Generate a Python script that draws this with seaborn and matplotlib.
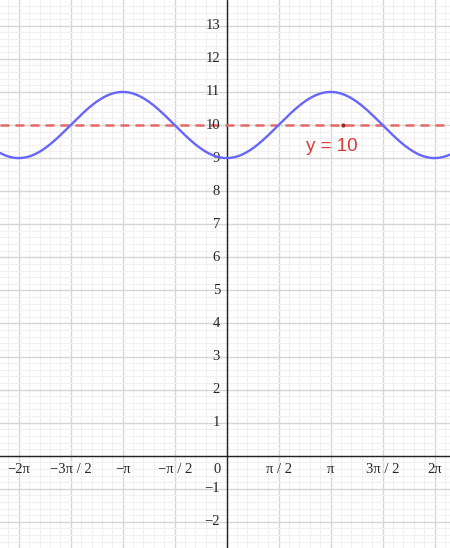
import numpy as np
import pandas as pd
import matplotlib
matplotlib.use("Agg")
import matplotlib.pyplot as plt
import seaborn as sns

# curve: y = 10 - cos(x)
midline = 10
amplitude = 1
x_lo, x_hi = -6.85, 6.75
y_lo, y_hi = -2.79, 13.78

x_tick_steps = [-4, -3, -2, -1, 1, 2, 3, 4]          # multiples of pi/2
x_tick_labels = ["\u22122\u03c0", "\u22123\u03c0 / 2", "\u2212\u03c0", "\u2212\u03c0 / 2",
                 "\u03c0 / 2", "\u03c0", "3\u03c0 / 2", "2\u03c0"]
y_ticks = [-2, -1, 1, 2, 3, 4, 5, 6, 7, 8, 9, 10, 11, 12, 13]
line_label = "y = 10"
label_x = 2.39

sns.set_style("white")
plt.rcParams["font.family"] = ["Liberation Serif", "DejaVu Serif"]

curve_x = np.linspace(x_lo, x_hi, 600)
df = pd.DataFrame({"x": curve_x, "y": midline - amplitude * np.cos(curve_x)})

fig = plt.figure(figsize=(4.5, 5.48), dpi=100)
ax = fig.add_axes([0, 0, 1, 1])

# grid
ax.set_xticks(np.arange(-4, 5) * np.pi / 2)
ax.set_xticks(np.arange(-22, 23) * np.pi / 10, minor=True)
ax.set_yticks(np.arange(-2, 14))
ax.set_yticks(np.arange(-15, 70) * 0.2, minor=True)
ax.grid(which="major", color="#d6d6d6", linewidth=1.0)
ax.grid(which="minor", color="#f0f0f0", linewidth=0.8)
ax.tick_params(which="both", length=0, labelbottom=False, labelleft=False)
for s in ax.spines.values():
    s.set_visible(False)

# axes
ax.axhline(0, color="#222222", linewidth=1.0, zorder=2)
ax.axvline(0, color="#222222", linewidth=1.0, zorder=2)

# dashed line and curve
ax.axhline(midline, color="#e46a6a", linewidth=1.8, dashes=(3.6, 2.4), zorder=3)
sns.lineplot(data=df, x="x", y="y", ax=ax, color="#6666ff", linewidth=1.7, zorder=4,
             sort=False)
ax.plot([3.51], [midline], marker="o", markersize=2, color="#a02020", zorder=5)
ax.text(label_x, midline - 0.66, line_label, color="#d93a3a", fontsize=13.5,
        family=["Liberation Sans", "DejaVu Sans"], ha="left", va="center")

# tick labels
for k, lab in zip(x_tick_steps, x_tick_labels):
    ax.text(k * np.pi / 2, -0.42, lab, ha="center", va="center", fontsize=10.5)
ax.text(-0.3, -0.42, "0", ha="center", va="center", fontsize=10.5)
for v in y_ticks:
    lab = str(v).replace("-", "\u2212")
    ax.text(-0.2, v, lab, ha="right", va="center", fontsize=10.5)

ax.set_xlim(x_lo, x_hi)
ax.set_ylim(y_lo, y_hi)
ax.set_xlabel("")
ax.set_ylabel("")

fig.savefig("out.png", dpi=100)
